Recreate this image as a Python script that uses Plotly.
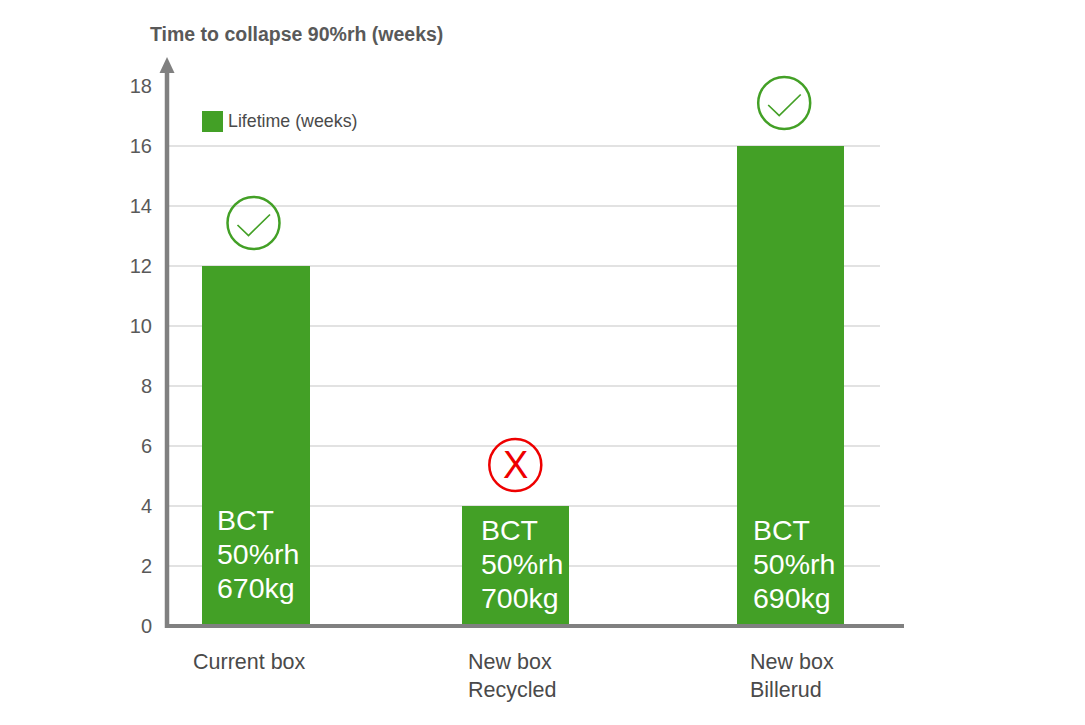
import plotly.graph_objects as go

categories = ["Current box", "New box<br>Recycled", "New box<br>Billerud"]
lifetime_weeks = [12, 4, 16]
bct_labels = [["BCT", "50%rh", "670kg"], ["BCT", "50%rh", "700kg"], ["BCT", "50%rh", "690kg"]]
verdicts = ["ok", "fail", "ok"]
y_ticks = [0, 2, 4, 6, 8, 10, 12, 14, 16, 18]
series_name = "Lifetime (weeks)"
y_title = "Time to collapse 90%rh (weeks)"

# Layout (x axis units are pixels from the y axis, the bars are unevenly spaced)
bar_centers = [89, 348.3, 623.7]
bar_width = 107.5
label_left = [24, 299, 581]
bct_left = [48, 312, 584]
bct_y_first = [3.53, 3.2, 3.2]
mark_dx = [-2.5, 0, -6.5]
mark_dy = [0, -2, 0]
Y_MAX = 18
GREEN = "#43A026"
AXIS = "#808080"
TEXT = "#595959"
DARK = "#4A4A4A"
FONT = "Liberation Sans, Arial, sans-serif"

fig = go.Figure()
fig.add_trace(go.Bar(x=bar_centers, y=lifetime_weeks, width=bar_width, name=series_name,
                     marker=dict(color=GREEN, line=dict(width=0)), showlegend=False))

shapes, annotations = [], []
pix = dict(xref="paper", yref="paper", xsizemode="pixel", ysizemode="pixel")

# axes with arrowhead
shapes.append(dict(type="line", xref="paper", yref="paper", x0=0, x1=737 / 713, y0=0, y1=0,
                   line=dict(color=AXIS, width=4)))
shapes.append(dict(type="line", **pix, xanchor=0, yanchor=0, x0=0, x1=0, y0=-2, y1=556,
                   line=dict(color=AXIS, width=4.5)))
shapes.append(dict(type="path", **pix, xanchor=0, yanchor=1, path="M -7.5 13 L 7.5 13 L 0 29 Z",
                   fillcolor=AXIS, line=dict(width=0)))

# legend key
shapes.append(dict(type="rect", **pix, xanchor=0, yanchor=16 / Y_MAX, x0=35, x1=56, y0=14, y1=35,
                   fillcolor=GREEN, line=dict(width=0)))
annotations.append(dict(x=59, y=16.83, xref="x", yref="y", text=series_name, showarrow=False,
                        xanchor="left", yanchor="middle", font=dict(size=17.8, color=DARK)))

# y title
annotations.append(dict(x=-19 / 713, y=1, xref="paper", yref="paper", yshift=52,
                        text="<b>" + y_title + "</b>", showarrow=False, xanchor="left",
                        yanchor="middle", font=dict(size=19.5, color=TEXT)))

for i, cat in enumerate(categories):
    cx, v = bar_centers[i], lifetime_weeks[i]
    annotations.append(dict(x=label_left[i], y=0, xref="x", yref="y", yshift=-22, text=cat,
                            showarrow=False, xanchor="left", yanchor="top", align="left",
                            font=dict(size=21.5, color=DARK)))
    for j, line in enumerate(bct_labels[i]):
        annotations.append(dict(x=bct_left[i], y=bct_y_first[i], xref="x", yref="y", yshift=-34 * j,
                                text=line, showarrow=False, xanchor="left", yanchor="middle",
                                font=dict(size=28.5, color="white")))
    col = GREEN if verdicts[i] == "ok" else "#EE0000"
    mx = cx + mark_dx[i]
    dy = mark_dy[i]
    circle_ref = dict(xref="x", yref="paper", xsizemode="pixel", ysizemode="pixel",
                      xanchor=mx, yanchor=v / Y_MAX)
    shapes.append(dict(type="circle", **circle_ref, x0=-26, x1=26, y0=17 + dy, y1=69 + dy,
                       line=dict(color=col, width=2.5), fillcolor="rgba(0,0,0,0)"))
    if verdicts[i] == "ok":
        shapes.append(dict(type="path", **circle_ref, path="M -16 41 L -5 30.5 L 16.5 51.5",
                           line=dict(color=col, width=1.7)))
    else:
        annotations.append(dict(x=mx, y=v, xref="x", yref="y", yshift=43 + dy, text="X", showarrow=False,
                                xanchor="center", yanchor="middle", font=dict(size=38, color=col)))

fig.update_layout(
    width=1069, height=709,
    margin=dict(l=159, r=197, t=78, b=91, autoexpand=False),
    paper_bgcolor="white", plot_bgcolor="white",
    font=dict(family=FONT, color=TEXT),
    shapes=shapes, annotations=annotations, bargap=0,
    xaxis=dict(range=[0, 713], showgrid=False, showticklabels=False, zeroline=False, showline=False, ticks=""),
    yaxis=dict(range=[0, Y_MAX], tickvals=y_ticks, showgrid=True, gridcolor="#E2E2E2", gridwidth=1.5,
               zeroline=False, showline=False, ticks="", ticklabelstandoff=14,
               tickfont=dict(size=20, color=TEXT)),
)
fig.write_html("out.html")
